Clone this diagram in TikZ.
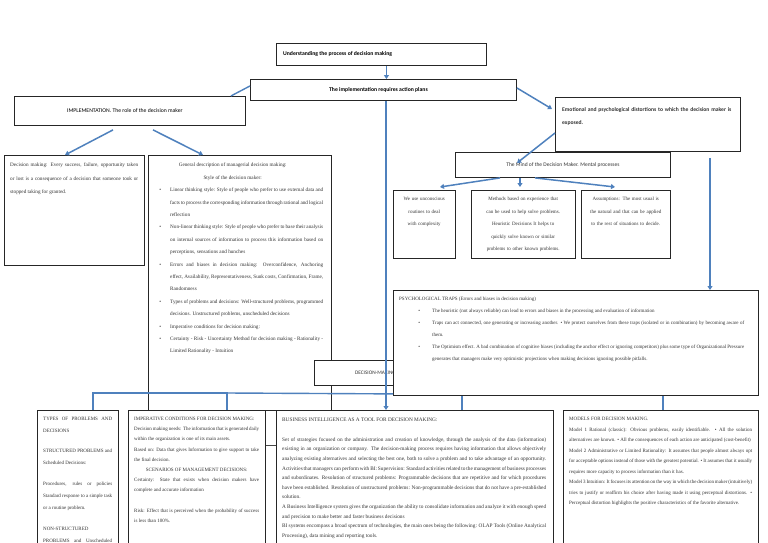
\documentclass[tikz,border=0pt]{standalone}
\usepackage{fontspec}
\setmainfont{Liberation Serif}
\newfontfamily\hd{Carlito}
\usetikzlibrary{arrows.meta,calc}
\definecolor{ablue}{RGB}{79,129,189}
\definecolor{dgray}{RGB}{70,70,70}
\hyphenpenalty=10000
\tikzset{
  bx/.style={draw=black!85, line width=0.9pt, fill=white, anchor=north west, inner sep=0pt},
  txt/.style={anchor=north west, inner sep=0pt, font=\fontsize{5.2}{9.4}\selectfont, align=justify, text=black!80},
  arr/.style={draw=ablue, line width=1.5pt, -{Triangle[length=4pt,width=5pt]}},
  bl/.style={draw=ablue, line width=1.4pt},
  gl/.style={draw=dgray, line width=0.9pt},
}
\newcommand{\bbx}[5]{\node[bx, minimum width=#4pt, minimum height=#5pt] (#1) at (#2,#3) {};}
\newcommand{\bul}[1]{\leavevmode\llap{\textbullet\hspace{#1}}}
\begin{document}
\begin{tikzpicture}[x=1pt,y=-1pt]
\useasboundingbox (0,0) rectangle (768,543);
\clip (0,0) rectangle (768,543);
% top boxes
\bbx{title}{276}{43}{210}{22}
\node[anchor=west, inner sep=0, font=\hd\bfseries\fontsize{5.7}{6}\selectfont] (titlet) at ($(title.west)+(7,0)$) {Understanding the process of decision making};
\bbx{plans}{250}{79}{266}{21}
\node[font=\hd\bfseries\fontsize{5.7}{6}\selectfont] (planst) at ($(plans.center)+(-5,0)$) {The implementation requires action plans};
\bbx{impl}{14}{96}{231}{29}
\node[font=\hd\fontsize{5.7}{6}\selectfont] (implt) at ($(impl.center)+(-5,0)$) {IMPLEMENTATION. The role of the decision maker};
\bbx{emo}{555}{97}{185}{54}
\node[txt, font=\hd\bfseries\fontsize{5.6}{13}\selectfont, text width=172pt, align=left] (emot) at ($(emo.north west)+(7,10)$) {Emotional and psychological distortions to which the decision maker is exposed.};
\bbx{mind}{455}{152}{215}{25}
\node[font=\hd\fontsize{5.5}{6}\selectfont, text=black!80] (mindt) at (mind.center) {The Mind of the Decision Maker. Mental processes};
% small boxes
\bbx{s1}{393}{190}{62}{68}
\node[txt, text width=56pt, align=center, font=\fontsize{5}{12.5}\selectfont] (s1t) at ($(s1.north west)+(3,7)$) {We use unconscious routines to deal with complexity};
\bbx{s2}{471}{190}{104}{68}
\node[txt, text width=92pt, align=center, font=\fontsize{5}{12.5}\selectfont] (s2t) at ($(s2.north west)+(6,7)$) {Methods based on experience that can be used to help solve problems. Heuristic Decisions It helps to quickly solve known or similar problems to other known problems.};
\bbx{s3}{581}{190}{89}{68}
\node[txt, text width=80pt, align=center, font=\fontsize{5}{12.5}\selectfont] (s3t) at ($(s3.north west)+(4.5,7)$) {Assumptions: The most usual is the natural and that can be applied to the rest of situations to decide.};
% left boxes
\bbx{dm}{4}{155}{140}{110}
\node[txt, text width=128pt, font=\fontsize{5.2}{13.5}\selectfont] (dmt) at ($(dm.north west)+(6,8)$) {Decision making: Every success, failure, opportunity taken or lost is a consequence of a decision that someone took or stopped taking for granted.};
\bbx{gen}{148}{155}{183}{255}
\node[txt, text width=153pt, font=\fontsize{5.2}{12.4}\selectfont] (gent) at ($(gen.north west)+(22,8)$) {%
\leavevmode\hspace*{-14pt}\makebox[153pt]{General description of managerial decision making:}\par
\leavevmode\hspace*{-14pt}\makebox[153pt]{Style of the decision maker:}\par
\bul{9pt}Linear thinking style: Style of people who prefer to use external data and facts to process the corresponding information through rational and logical reflection\par
\bul{9pt}Non-linear thinking style: Style of people who prefer to base their analysis on internal sources of information to process this information based on perceptions, sensations and hunches\par
\bul{9pt}Errors and biases in decision making: Overconfidence, Anchoring effect, Availability, Representativeness, Sunk costs, Confirmation, Frame, Randomness\par
\bul{9pt}Types of problems and decisions: Well-structured problems, programmed decisions. Unstructured problems, unscheduled decisions\par
\bul{9pt}Imperative conditions for decision making:\par
\bul{9pt}Certainty - Risk - Uncertainty Method for decision making - Rationality - Limited Rationality - Intuition\par};
% decision-making and psych
\bbx{dec}{314}{360}{122}{25}
\node[font=\hd\fontsize{5.3}{6}\selectfont, text=black!80] (dect) at (dec.center) {DECISION-MAKING};
\bbx{psych}{393}{290}{365}{105}
\node[txt, text width=345pt, font=\fontsize{5}{12}\selectfont] (psycht) at ($(psych.north west)+(6,7)$) {%
PSYCHOLOGICAL TRAPS (Errors and biases in decision making)\par
\leftskip=33pt
\bul{12pt}The heuristic (not always reliable) can lead to errors and biases in the processing and evaluation of information\par
\bul{12pt}Traps can act connected, one generating or increasing another. • We protect ourselves from these traps (isolated or in combination) by becoming aware of them.\par
\bul{12pt}The Optimism effect. A bad combination of cognitive biases (including the anchor effect or ignoring competitors) plus some type of Organizational Pressure generates that managers make very optimistic projections when making decisions ignoring possible pitfalls.\par};
% bottom boxes
\bbx{b1}{37}{410}{81}{160}
\node[txt, text width=69pt, font=\fontsize{5}{12}\selectfont] (b1t) at ($(b1.north west)+(6,7)$) {TYPES OF PROBLEMS AND DECISIONS\par\vspace{8pt}STRUCTURED PROBLEMS and Scheduled Decisions:\par\vspace{9pt}Procedures, rules or policies Standard response to a simple task or a routine problem.\par\vspace{9pt}NON-STRUCTURED PROBLEMS and Unscheduled Decisions:\par};
\bbx{b2}{128}{410}{137}{160}
\node[txt, text width=125pt, font=\fontsize{5}{10.2}\selectfont] (b2t) at ($(b2.north west)+(6,7)$) {IMPERATIVE CONDITIONS FOR DECISION MAKING:\par Decision making needs: The information that is generated daily within the organization is one of its main assets.\par Based on: Data that gives Information to give support to take the final decision.\par\leavevmode\makebox[125pt]{SCENARIOS OF MANAGEMENT DECISIONS:}\par Certainty: State that exists when decision makers have complete and accurate information\par\vspace{10pt}Risk: Effect that is perceived when the probability of success is less than 100\%.\par};
\bbx{bi}{276}{410}{277}{160}
\node[txt, text width=264pt, font=\fontsize{5.3}{9.6}\selectfont] (bit) at ($(bi.north west)+(6,8)$) {BUSINESS INTELLIGENCE AS A TOOL FOR DECISION MAKING:\par\vspace{10pt}Set of strategies focused on the administration and creation of knowledge, through the analysis of the data (information) existing in an organization or company. The decision-making process requires having information that allows objectively analyzing existing alternatives and selecting the best one, both to solve a problem and to take advantage of an opportunity. Activities that managers can perform with BI: Supervision: Standard activities related to the management of business processes and subordinates. Resolution of structured problems: Programmable decisions that are repetitive and for which procedures have been established. Resolution of unstructured problems: Non-programmable decisions that do not have a pre-established solution.\par A Business Intelligence system gives the organization the ability to consolidate information and analyze it with enough speed and precision to make better and faster business decisions\par BI systems encompass a broad spectrum of technologies, the main ones being the following: OLAP Tools (Online Analytical Processing), data mining and reporting tools.\par};
\bbx{mod}{563}{410}{195}{160}
\node[txt, text width=183pt, font=\fontsize{5}{10.5}\selectfont] (modt) at ($(mod.north west)+(6,7)$) {MODELS FOR DECISION MAKING.\par Model 1 Rational (classic): Obvious problems, easily identifiable. • All the solution alternatives are known. • All the consequences of each action are anticipated (cost-benefit)\par Model 2 Administrative or Limited Rationality: It assumes that people almost always opt for acceptable options instead of those with the greatest potential. • It assumes that it usually requires more capacity to process information than it has.\par Model 3 Intuition: It focuses its attention on the way in which the decision maker (intuitively) tries to justify or reaffirm his choice after having made it using perceptual distortions. • Perceptual distortion highlights the positive characteristics of the favorite alternative.\par};
% connectors
\draw[arr] ($(title.south)+(5,0)$) -- ($(plans.north)+(3,0)$);
\draw[bl] ($(plans.west)+(0,-4)$) -- ($(impl.north east)+(-15,0)$);
\draw[arr] ($(plans.east)+(0,-2)$) -- ($(emo.north west)+(-3,12)$);
\draw[arr] ($(emo.north west)+(0,36)$) -- ($(mind.north west)+(62,11)$);
\draw[arr] ($(emo.south west)+(155,6)$) -- ($(psych.north west)+(317,0)$);
\draw[arr] ($(mind.south west)+(45,0)$) -- ($(s1.north west)+(47,-3)$);
\draw[arr] ($(mind.south west)+(65,0)$) -- ($(s2.north west)+(49,-3)$);
\draw[arr] ($(mind.south west)+(80,0)$) -- ($(s3.north west)+(34,-3)$);
\draw[arr] ($(impl.south west)+(99,4)$) -- ($(dm.north west)+(61,0)$);
\draw[arr] ($(impl.south west)+(139,4)$) -- ($(gen.north west)+(55,0)$);
\draw[bl] ($(b1.north west)+(56,0)$) -- ($(b1.north west)+(56,-17)$) -- ($(b2.north west)+(99,-17)$) -- ($(b2.north west)+(99,0)$);
\draw[bl] ($(b2.north west)+(99,-17)$) -- ($(psych.south west)+(0,-2)$);
\draw[bl] ($(psych.south west)+(69,0)$) -- ($(bi.north west)+(186,0)$);
\draw[bl] ($(psych.south west)+(270,0)$) -- ($(mod.north west)+(100,0)$);
\draw[gl] ($(b2.north east)+(0,35)$) -- ($(bi.north west)+(0,35)$);
\draw[arr] ($(plans.south west)+(136,0)$) -- ($(bi.north west)+(110,0)$);
\end{tikzpicture}
\end{document}
